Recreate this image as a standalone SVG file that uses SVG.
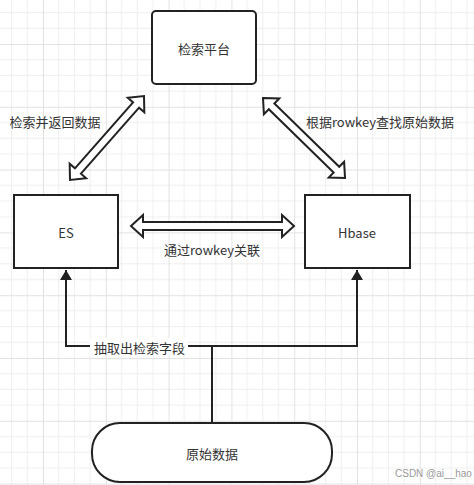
<svg xmlns="http://www.w3.org/2000/svg" width="474" height="485" viewBox="0 0 474 485">
  <style>
    .box { fill: #ffffff; stroke: #222222; stroke-width: 2; }
    .blk { fill: #ffffff; stroke: #222222; stroke-width: 2; stroke-linejoin: miter; }
    .line { fill: none; stroke: #222222; stroke-width: 2; }
    .t { font-family: "Noto Sans CJK SC", "Noto Sans", sans-serif; font-size: 13px; fill: #333333; text-anchor: middle; dominant-baseline: central; }
    .wm { font-family: "Liberation Sans", "Noto Sans", sans-serif; font-size: 10px; fill: #9a9a9a; }
  </style>
  <defs>
    <pattern id="grid" x="43" y="44" width="62.8" height="62.8" patternUnits="userSpaceOnUse">
      <path d="M15.7,0 V62.8 M31.4,0 V62.8 M47.1,0 V62.8 M0,15.7 H62.8 M0,31.4 H62.8 M0,47.1 H62.8" stroke="#eeeeee" stroke-width="1" fill="none"/>
      <path d="M0.5,0 V62.8 M0,0.5 H62.8" stroke="#e2e2e2" stroke-width="1" fill="none"/>
    </pattern>
    <marker id="tri" viewBox="0 0 10 12" refX="10" refY="6" markerWidth="10" markerHeight="12" markerUnits="userSpaceOnUse" orient="auto">
      <path d="M0,0 L10,6 L0,12 Z" fill="#222222"/>
    </marker>
  </defs>
  <rect width="474" height="485" fill="#ffffff"/>
  <rect width="474" height="485" fill="url(#grid)"/>

  <g id="connectors">
    <path class="blk" d="M131,226 L143,215 L143,222 L282,222 L282,215 L294,226 L282,237 L282,230 L143,230 L143,237 Z"/>
    <path class="blk" transform="translate(70,180) rotate(-48.6)" d="M0,0 L12,-11 L12,-4 L99.9,-4 L99.9,-11 L111.9,0 L99.9,11 L99.9,4 L12,4 L12,11 Z"/>
    <path class="blk" transform="translate(263,98) rotate(44.3)" d="M0,0 L12,-11 L12,-4 L102.6,-4 L102.6,-11 L114.6,0 L102.6,11 L102.6,4 L12,4 L12,11 Z"/>
    <path class="line" d="M212,423 V346 H66 V270" marker-end="url(#tri)"/>
    <path class="line" d="M212,346 H357 V270" marker-end="url(#tri)"/>
    <rect x="90" y="338" width="98" height="17" fill="#ffffff"/>
    <text class="t" x="139.5" y="347">抽取出检索字段</text>
    <text class="t" x="55" y="121">检索并返回数据</text>
    <text class="t" x="380" y="121">根据rowkey查找原始数据</text>
    <text class="t" x="212" y="249">通过rowkey关联</text>
  </g>

  <g id="node-platform">
    <rect class="box" x="152" y="11" width="104" height="73" rx="4"/>
    <text class="t" x="204" y="48">检索平台</text>
  </g>
  <g id="node-es">
    <rect class="box" x="14" y="195" width="104" height="73"/>
    <text class="t" x="66" y="232">ES</text>
  </g>
  <g id="node-hbase">
    <rect class="box" x="305" y="195" width="105" height="73"/>
    <text class="t" x="357" y="232">Hbase</text>
  </g>
  <g id="node-raw">
    <rect class="box" x="92" y="423" width="240" height="59" rx="28"/>
    <text class="t" x="212" y="453">原始数据</text>
  </g>
  <text class="wm" x="395" y="477">CSDN @ai__hao</text>
</svg>
